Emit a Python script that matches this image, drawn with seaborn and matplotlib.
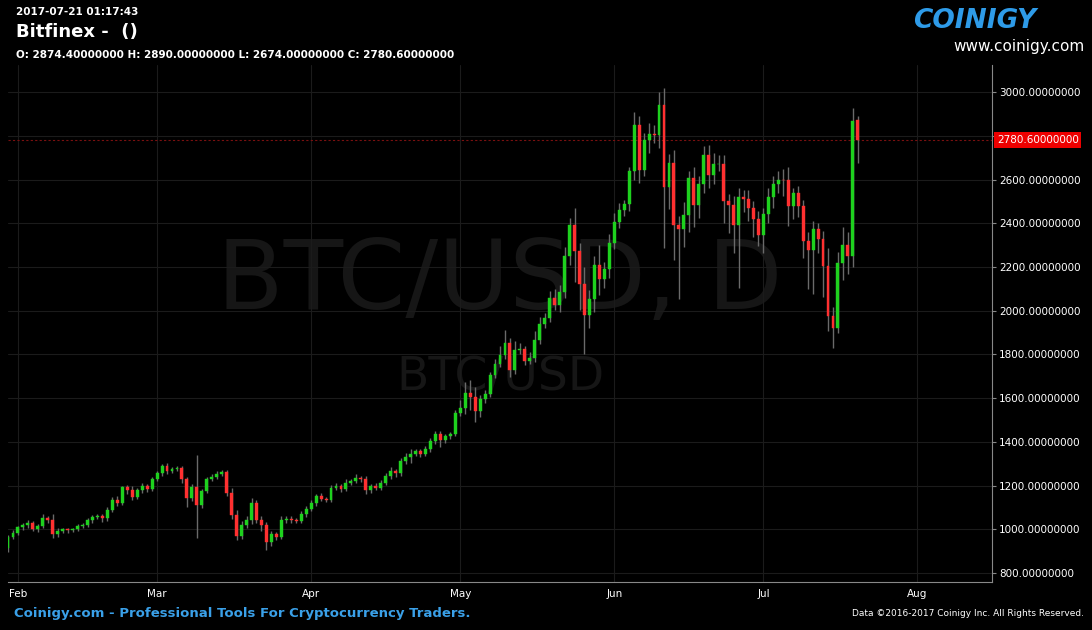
import numpy as np
import pandas as pd
import matplotlib
matplotlib.use("Agg")
import matplotlib.pyplot as plt
import matplotlib.dates as mdates
import seaborn as sns

closes = [965,984,1009,1018,1030,1001,1015,1053,1043,980,994,1000,997,1000,1015,1020,1042,1058,1062,1050,1088,1134,1122,1192,1182,1150,1180,1199,
          1185,1231,1259,1291,1266,1278,1280,1228,1144,1192,1111,1175,1229,1240,1255,1262,1167,1065,969,1018,1044,1122,1044,1022,942,977,967,1044,1045,1042,1040,
          1070,1095,1120,
          1152,1140,1135,1190,1199,1185,1213,1220,1236,1228,1181,1199,1190,1213,1244,1267,1256,1311,1329,1346,1358,1344,1367,1404,1436,1408,1427,1435,1533,1556,1622,1604,1542,1598,1619,1706,1756,1797,1854,1729,1820,1824,1770,1785,1866,
          1939,1968,2059,2026,2087,2250,2392,2273,2121,1980,2053,2209,2143,2191,2311,2407,2461,2488,2639,2850,2644,2781,2808,2806,2941,2567,2677,2392,2372,2438,2608,2484,2578,2712,2621,2671,2672,2502,2484,2392,2522,2513,2470,2418,2346,2442,2522,2578,2598,2596,2479,2540,2478,2320,2278,2372,2326,2205,1976,1919,2220,2301,2250,2866,2780.6]
first_open = 914
last_open = 2874.4
upper_wick = [10,15,8,10,12,10,8,15,10,25,10,8,8,8,10,8,12,8,10,10,15,12,20,8,10,15,10,12,
              8,10,10,10,12,8,10,8,12,15,150,10,10,12,10,8,10,20,25,20,15,20,10,15,10,15,10,15,15,15,12,
              15,10,12,
              10,12,10,12,15,10,15,10,15,10,15,10,12,12,15,20,10,15,20,20,10,10,12,15,15,15,10,12,15,35,50,60,45,15,20,15,25,40,60,20,40,30,15,25,40,
              30,20,30,40,30,40,30,80,35,80,40,40,90,30,40,40,30,20,20,60,40,30,50,40,60,80,40,60,40,60,30,50,40,40,45,50,40,40,30,40,40,30,40,30,40,30,40,40,40,50,60,20,30,30,40,40,30,40,80,40,50,80,60,60,15.6]
lower_wick = [20,10,10,12,10,10,15,10,15,20,15,10,12,10,8,10,10,12,10,15,12,10,15,12,20,15,12,15,
              15,12,10,15,12,10,12,15,40,15,150,12,10,10,12,10,15,20,20,15,12,20,15,30,35,20,15,12,15,12,12,
              10,12,12,
              12,10,10,12,12,15,10,12,10,12,20,15,12,10,10,12,15,10,12,25,12,12,10,12,15,30,12,15,10,15,30,60,50,30,20,15,15,15,20,30,20,20,20,15,20,
              20,20,20,25,30,30,40,140,120,180,60,60,70,40,40,30,30,30,30,40,60,30,60,40,60,280,100,160,320,80,80,100,60,40,60,40,30,100,130,130,290,60,60,80,50,80,40,50,40,70,90,60,50,80,180,200,60,140,70,90,20,80,80,50,106.6]
month_labels = ["Feb", "Mar", "Apr", "May", "Jun", "Jul", "Aug"]
y_ticks = [800, 1000, 1200, 1400, 1600, 1800, 2000, 2200, 2400, 2600, 2800, 3000]

n = len(closes)
dates = pd.date_range(end="2017-07-20", periods=n, freq="D")
opens = [first_open] + closes[:-1]
opens[-1] = last_open
df = pd.DataFrame({"date": dates, "open": opens, "close": closes})
df["high"] = df[["open", "close"]].max(axis=1) + np.array(upper_wick)
df["low"] = df[["open", "close"]].min(axis=1) - np.array(lower_wick)
df["x"] = mdates.date2num(df["date"])

sns.set_style("dark")
plt.rcParams["font.family"] = ["DejaVu Sans"]
BG = "#000000"
fig = plt.figure(figsize=(10.92, 6.3), dpi=100, facecolor=BG)
ax = fig.add_axes([8/1092, 1-582/630, (992-8)/1092, (582-65)/630], facecolor=BG)

GREEN = "#1ed11e"; RED = "#ff3030"
up = df["close"] >= df["open"]
ax.vlines(df["x"], df["low"], df["high"], color="#6a6a6a", lw=1.0, zorder=2)
ax.bar(df["x"][up], (df["close"] - df["open"])[up], bottom=df["open"][up], width=0.58,
       color=GREEN, edgecolor=GREEN, lw=0.3, zorder=3)
ax.bar(df["x"][~up], (df["open"] - df["close"])[~up], bottom=df["close"][~up], width=0.58,
       color=RED, edgecolor=RED, lw=0.3, zorder=3)

month_dates = mdates.date2num(pd.to_datetime([f"2017-{m:02d}-01" for m in range(2, 9)]))
ax.set_xlim(mdates.date2num(pd.Timestamp("2017-01-30")), mdates.date2num(pd.Timestamp("2017-08-16")))
ax.set_ylim(759, 3124)
ax.set_xticks(month_dates)
ax.set_xticklabels(month_labels, color="white", fontsize=7.5)
ax.yaxis.tick_right()
ax.set_yticks(y_ticks)
ax.set_yticklabels([f"{v:.8f}" for v in y_ticks], color="white", fontsize=7.5)
ax.tick_params(axis="both", length=3, color="#888888", pad=2)
ax.grid(True, color="#1b1b1b", lw=0.8)
for s in ["top", "left"]:
    ax.spines[s].set_visible(False)
ax.spines["right"].set_color("#888888")
ax.spines["bottom"].set_color("#888888")

# watermark
ax.text(0.5, 0.58, "BTC/USD, D", transform=ax.transAxes, ha="center", va="center",
        fontsize=70, color="#161616", zorder=0)
ax.text(0.5, 0.395, "BTC/USD", transform=ax.transAxes, ha="center", va="center",
        fontsize=34, color="#161616", zorder=0)

# last price line and tag (covers the 2800 label as in the reference)
last = closes[-1]
ax.axhline(last, color="#7a1010", lw=0.8, ls=(0, (2, 2)), zorder=1)
ax.get_yticklabels()[y_ticks.index(2800)].set_visible(False)
ax.text(1.005, last, f"{last:.8f}", transform=ax.get_yaxis_transform(), ha="left", va="center",
        fontsize=7.5, color="white", bbox=dict(boxstyle="square,pad=0.25", fc="#ee0000", ec="none"),
        zorder=5, clip_on=False)

# header texts
fig.text(16/1092, 1-12/630, "2017-07-21 01:17:43", color="white", fontsize=7.5, fontweight="bold", va="center")
fig.text(16/1092, 1-32/630, "Bitfinex -  ()", color="white", fontsize=13, fontweight="bold", va="center")
fig.text(16/1092, 1-55/630, "O: 2874.40000000 H: 2890.00000000 L: 2674.00000000 C: 2780.60000000",
         color="white", fontsize=7.5, fontweight="bold", va="center")
fig.text(1036/1092, 1-21/630, "COINIGY", color="#2e9be8", fontsize=19, fontweight="bold",
         style="italic", ha="right", va="center")
fig.text(1085/1092, 1-47/630, "www.coinigy.com", color="white", fontsize=11, ha="right", va="center")
fig.text(14/1092, 1-614/630, "Coinigy.com - Professional Tools For Cryptocurrency Traders.", color="#3aa0e8",
         fontsize=9.5, fontweight="bold", va="center")
fig.text(1084/1092, 1-614/630, "Data \u00a92016-2017 Coinigy Inc. All Rights Reserved.", color="white",
         fontsize=6.5, ha="right", va="center")

fig.savefig("out.png", dpi=100, facecolor=BG)
